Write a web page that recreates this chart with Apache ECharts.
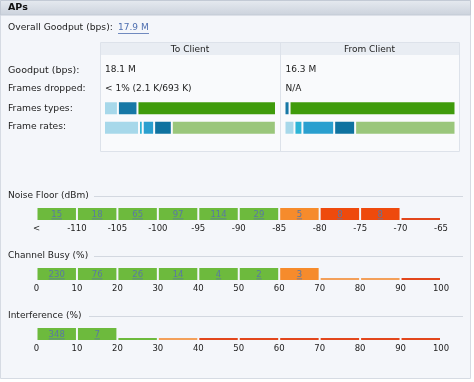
<!DOCTYPE html>
<html><head><meta charset="utf-8">
<script src="https://cdn.jsdelivr.net/npm/echarts@6/dist/echarts.min.js"></script>
<style>html,body{margin:0;padding:0;background:#fff}#c{width:474px;height:382px}</style>
</head><body><div id="c"></div>
<script>
// ---- data ----
const overallGoodput = '17.9 M';
const columns = ['To Client', 'From Client'];
const goodput = ['18.1 M', '16.3 M'];
const framesDropped = ['< 1% (2.1 K/693 K)', 'N/A'];
const rowLabels = ['Goodput (bps):', 'Frames dropped:', 'Frames types:', 'Frame rates:'];
const toClientTypes = [7.6, 11.5, 80.9];
const fromClientTypes = [0, 2.4, 97.6];
const toClientRates = [20, 2.2, 6.7, 10.4, 60.6];
const fromClientRates = [5.3, 4.7, 18.8, 12.4, 58.8];

const noiseTicks = ['<', '-110', '-105', '-100', '-95', '-90', '-85', '-80', '-75', '-70', '-65'];
const noiseCounts = [15, 18, 65, 97, 114, 29, 5, 8, 8, 0];
const noiseLevel = [0, 0, 0, 0, 0, 0, 1, 2, 2, 2];

const busyTicks = ['0', '10', '20', '30', '40', '50', '60', '70', '80', '90', '100'];
const busyCounts = [230, 76, 26, 14, 4, 2, 3, 0, 0, 0];
const busyLevel = [0, 0, 0, 0, 0, 0, 1, 1, 1, 2];

const interfTicks = ['0', '10', '20', '30', '40', '50', '60', '70', '80', '90', '100'];
const interfCounts = [348, 7, 0, 0, 0, 0, 0, 0, 0, 0];
const interfLevel = [0, 0, 0, 1, 2, 2, 2, 2, 2, 2];

// ---- styles ----
const FONT = 'DejaVu Sans';
const typeColors = ['#a7d8ea', '#1778a6', '#3f9b0b'];
const rateColors = ['#a7d8ea', '#2db4d6', '#2a9fcf', '#0f72a0', '#9ac67b'];
const cellColors = ['#6dba3d', '#f68b2c', '#ee4a0d'];
const lineColors = ['#6dba3d', '#f3a05a', '#e2461c'];
const BG = '#f4f6fa';

const chart = echarts.init(document.getElementById('c'), null, {renderer: 'canvas'});

const grids = [], xAxes = [], yAxes = [], series = [];

// frames grids
const frameLefts = [105, 285.5], frameWidths = [170, 169];
const typesData = [toClientTypes, fromClientTypes];
const ratesData = [toClientRates, fromClientRates];
function segments(values, row, colors) {
  const out = [];
  let acc = 0;
  values.forEach((v, i) => {
    if (v > 0) out.push([row, acc, acc + v, i, colors === typeColors ? 0 : 1]);
    acc += v;
  });
  return out;
}
for (let g = 0; g < 2; g++) {
  grids.push({left: frameLefts[g], width: frameWidths[g], top: 98.5, height: 39});
  xAxes.push({type: 'value', gridIndex: g, min: 0, max: 100, show: false});
  yAxes.push({type: 'category', gridIndex: g, data: ['Frames types', 'Frame rates'], inverse: true, show: false});
  const data = segments(typesData[g], 0, typeColors).concat(segments(ratesData[g], 1, rateColors));
  series.push({
    type: 'custom', xAxisIndex: g, yAxisIndex: g, silent: true, data,
    renderItem: (params, api) => {
      const row = api.value(0), s = api.value(1), e = api.value(2), ci = api.value(3), kind = api.value(4);
      const p0 = api.coord([s, row]), p1 = api.coord([e, row]);
      const x0 = p0[0] + (s > 0.01 ? 1 : 0), x1 = p1[0] - (e < 99.9 ? 1 : 0);
      return {type: 'rect', shape: {x: x0, y: p0[1] - 6, width: Math.max(x1 - x0, 0.8), height: 12},
        style: {fill: (kind === 0 ? typeColors : rateColors)[ci]}};
    }
  });
}

// histograms
const hists = [
  {ticks: noiseTicks, counts: noiseCounts, level: noiseLevel, top: 208},
  {ticks: busyTicks, counts: busyCounts, level: busyLevel, top: 268},
  {ticks: interfTicks, counts: interfCounts, level: interfLevel, top: 328}
];
hists.forEach((h, k) => {
  const gi = grids.length;
  grids.push({left: 36.5, width: 404.5, top: h.top, height: 12});
  xAxes.push({
    type: 'value', gridIndex: gi, min: 0, max: 10, interval: 1,
    axisLine: {show: false}, axisTick: {show: false}, splitLine: {show: false},
    axisLabel: {formatter: v => h.ticks[v], fontFamily: FONT, fontSize: 8.5, color: '#222', margin: 4, showMinLabel: true, showMaxLabel: true}
  });
  yAxes.push({type: 'value', gridIndex: gi, min: 0, max: 1, show: false});
  series.push({
    type: 'custom', xAxisIndex: gi, yAxisIndex: gi, silent: true,
    data: h.counts.map((c, i) => [i, c, h.level[i]]),
    renderItem: (params, api) => {
      const i = api.value(0), v = api.value(1), lv = api.value(2);
      const p0 = api.coord([i, 0]), p1 = api.coord([i + 1, 1]);
      const x0 = p0[0] + 1, x1 = p1[0] - 1, yb = p0[1], yt = p1[1];
      if (!v) {
        return {type: 'rect', shape: {x: x0, y: yb - 2, width: x1 - x0, height: 2}, style: {fill: lineColors[lv]}};
      }
      const cx = (x0 + x1) / 2, cy = (yb + yt) / 2;
      const tw = String(v).length * 5.3;
      return {type: 'group', children: [
        {type: 'rect', shape: {x: x0, y: yt, width: x1 - x0, height: yb - yt}, style: {fill: cellColors[lv]}},
        {type: 'text', style: {text: String(v), x: cx, y: cy + 0.5, align: 'center', verticalAlign: 'middle', font: '8.5px "' + FONT + '"', fill: '#5a78a4'}},
        {type: 'rect', shape: {x: cx - tw / 2, y: cy + 4.5, width: tw, height: 0.8}, style: {fill: '#5a78a4'}}
      ]};
    }
  });
});

const txt = (text, x, y, size, opts) => Object.assign({
  type: 'text', z: 10, style: Object.assign({text, x, y, font: size + 'px "' + FONT + '"', fill: '#222', verticalAlign: 'middle'}, opts || {})
});

const graphics = [
  {type: 'rect', z: -10, shape: {x: 0.5, y: 0.5, width: 470, height: 378}, style: {fill: BG, stroke: '#d6dbe3', lineWidth: 1}},
  {type: 'rect', z: -9, shape: {x: 0.5, y: 0.5, width: 470, height: 14.5}, style: {fill: new echarts.graphic.LinearGradient(0, 0, 0, 1, [{offset: 0, color: '#e6eaf0'}, {offset: 1, color: '#cbd2dc'}]), stroke: '#c3cad5', lineWidth: 1}},
  txt('APs', 8, 7.5, 9.5, {font: 'bold 9.5px "' + FONT + '"', fill: '#111'}),
  txt('Overall Goodput (bps):', 8, 28, 9.2),
  txt(overallGoodput, 118, 28, 9, {fill: '#4e6fb0'}),
  {type: 'rect', z: 10, shape: {x: 118, y: 33, width: 31, height: 0.8}, style: {fill: '#4e6fb0'}},
  // table
  {type: 'rect', z: -8, shape: {x: 100.5, y: 42.5, width: 359, height: 109}, style: {fill: '#f9fafc', stroke: '#dde2ea', lineWidth: 1}},
  {type: 'rect', z: -7, shape: {x: 101, y: 43, width: 179, height: 12}, style: {fill: '#e9edf3'}},
  {type: 'rect', z: -7, shape: {x: 281, y: 43, width: 178, height: 12}, style: {fill: '#e9edf3'}},
  {type: 'line', z: -6, shape: {x1: 280.5, y1: 43, x2: 280.5, y2: 151}, style: {stroke: '#dde2ea', lineWidth: 1}},
  txt(columns[0], 190, 50, 9, {align: 'center'}),
  txt(columns[1], 369.5, 50, 9, {align: 'center'}),
  txt(rowLabels[0], 8, 70.5, 9.5),
  txt(rowLabels[1], 8, 88.5, 9.2),
  txt(rowLabels[2], 8, 108.5, 9.2),
  txt(rowLabels[3], 8, 127, 9.2),
  txt(goodput[0], 105, 70, 9),
  txt(framesDropped[0], 105, 88.5, 9),
  txt(goodput[1], 285.5, 70, 9),
  txt(framesDropped[1], 285.5, 88.5, 9),
  // section titles
  txt('Noise Floor (dBm)', 8, 196, 9),
  {type: 'line', z: -6, shape: {x1: 94, y1: 196.5, x2: 463, y2: 196.5}, style: {stroke: '#d3d8e0', lineWidth: 1}},
  txt('Channel Busy (%)', 8, 256, 9),
  {type: 'line', z: -6, shape: {x1: 94, y1: 256.5, x2: 463, y2: 256.5}, style: {stroke: '#d3d8e0', lineWidth: 1}},
  txt('Interference (%)', 8, 316, 9),
  {type: 'line', z: -6, shape: {x1: 89, y1: 316.5, x2: 463, y2: 316.5}, style: {stroke: '#d3d8e0', lineWidth: 1}}
];

chart.setOption({
  backgroundColor: '#ffffff',
  animation: false,
  grid: grids, xAxis: xAxes, yAxis: yAxes, series,
  graphic: {elements: graphics}
});
</script></body></html>
